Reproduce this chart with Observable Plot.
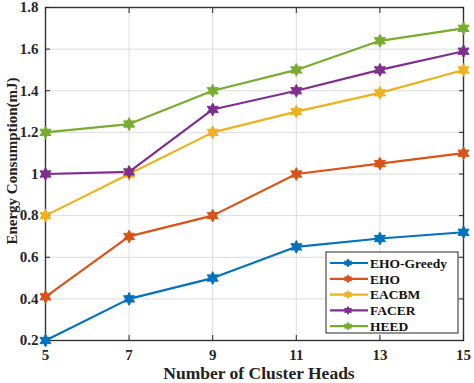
<!DOCTYPE html>
<html><head><meta charset="utf-8">
<script src="https://cdn.jsdelivr.net/npm/d3@7"></script>
<script src="https://cdn.jsdelivr.net/npm/@observablehq/plot@0.6"></script>
<style>
body{margin:0;background:#fff;}
#chart{position:relative;width:474px;height:383px;}
</style>
</head><body><div id="chart"></div>
<script>
const clusterHeads = [5, 7, 9, 11, 13, 15];
const seriesNames = ["EHO-Greedy", "EHO", "EACBM", "FACER", "HEED"];
const ehoGreedy = [0.2, 0.4, 0.5, 0.65, 0.69, 0.72];
const eho = [0.41, 0.7, 0.8, 1.0, 1.05, 1.1];
const eacbm = [0.8, 1.0, 1.2, 1.3, 1.39, 1.5];
const facer = [1.0, 1.01, 1.31, 1.4, 1.5, 1.59];
const heed = [1.2, 1.24, 1.4, 1.5, 1.64, 1.7];
const colors = ["#0072BD", "#D95319", "#EDB120", "#7E2F8E", "#77AC30"];
const yTicks = [0.2, 0.4, 0.6, 0.8, 1, 1.2, 1.4, 1.6, 1.8];
const xTitle = "Number of Cluster Heads";
const yTitle = "Energy Consumption(mJ)";

const allSeries = [ehoGreedy, eho, eacbm, facer, heed];
const data = [];
allSeries.forEach((vals, i) => vals.forEach((v, j) => data.push({series: seriesNames[i], x: clusterHeads[j], y: v})));

const hexagram = {
  draw(ctx, size) {
    const r = Math.sqrt(size) * 0.75, ri = r * 0.55;
    for (let k = 0; k < 12; k++) {
      const a = Math.PI / 6 * k - Math.PI / 2;
      const rr = k % 2 ? ri : r;
      const px = rr * Math.cos(a), py = rr * Math.sin(a);
      k ? ctx.lineTo(px, py) : ctx.moveTo(px, py);
    }
    ctx.closePath();
  }
};

const font = "'Liberation Serif', 'Times New Roman', serif";
const plot = Plot.plot({
  width: 474, height: 383,
  marginLeft: 45, marginRight: 11, marginTop: 7, marginBottom: 43,
  style: {fontFamily: font, fontWeight: "bold", fontSize: "15px", color: "#262626", background: "#fff"},
  x: {domain: [5, 15], ticks: clusterHeads, label: null},
  y: {domain: [0.2, 1.8], ticks: yTicks, label: null},
  color: {domain: seriesNames, range: colors},
  marks: [
    Plot.gridX(clusterHeads, {stroke: "#dcdcdc", strokeOpacity: 1, strokeWidth: 1}),
    Plot.gridY(yTicks, {stroke: "#dcdcdc", strokeOpacity: 1, strokeWidth: 1}),
    Plot.frame({stroke: "#333", strokeWidth: 1.4}),
    Plot.axisX(clusterHeads, {anchor: "bottom", tickSize: -5, tickPadding: 14, fontSize: 15, stroke: "#262626", label: null}),
    Plot.axisX(clusterHeads, {anchor: "top", tickSize: -5, tickFormat: () => "", label: null, stroke: "#262626"}),
    Plot.axisY(yTicks, {anchor: "left", tickSize: -5, tickPadding: 12, tickFormat: d => String(d), fontSize: 15, stroke: "#262626", label: null}),
    Plot.axisY(yTicks, {anchor: "right", tickSize: -5, tickFormat: () => "", label: null, stroke: "#262626"}),
    Plot.line(data, {x: "x", y: "y", z: "series", stroke: "series", strokeWidth: 2.2}),
    Plot.dot(data, {x: "x", y: "y", fill: "series", stroke: "series", strokeWidth: 1, symbol: () => hexagram, r: 4.8})
  ]
});
document.getElementById("chart").appendChild(plot);

const svg = d3.select(plot);
// Axis titles
svg.append("text").attr("x", 259).attr("y", 379).attr("text-anchor", "middle")
  .attr("font-family", font).attr("font-weight", "bold").attr("font-size", 17.5).attr("fill", "#222").text(xTitle);
svg.append("text").attr("transform", "translate(17,161) rotate(-90)").attr("text-anchor", "middle")
  .attr("font-family", font).attr("font-weight", "bold").attr("font-size", 15).attr("fill", "#222").text(yTitle);

// Legend box inside plot (lower right)
const lg = svg.append("g").attr("transform", "translate(326,252)");
lg.append("rect").attr("width", 132).attr("height", 81).attr("fill", "#fff").attr("stroke", "#262626").attr("stroke-width", 1);
seriesNames.forEach((name, i) => {
  const y = 11 + i * 15.8;
  lg.append("line").attr("x1", 4).attr("x2", 42).attr("y1", y).attr("y2", y).attr("stroke", colors[i]).attr("stroke-width", 2.2);
  const p = d3.path(); hexagram.draw(p, 4.8 * 4.8 * 1.2);
  lg.append("path").attr("d", p.toString()).attr("transform", `translate(22,${y})`).attr("fill", colors[i]).attr("stroke", colors[i]);
  lg.append("text").attr("x", 44).attr("y", y).attr("dy", "0.36em").attr("text-anchor", "start")
    .attr("font-family", font).attr("font-weight", "bold").attr("font-size", 13.5).attr("fill", "#111").text(name);
});
</script>
</body></html>
